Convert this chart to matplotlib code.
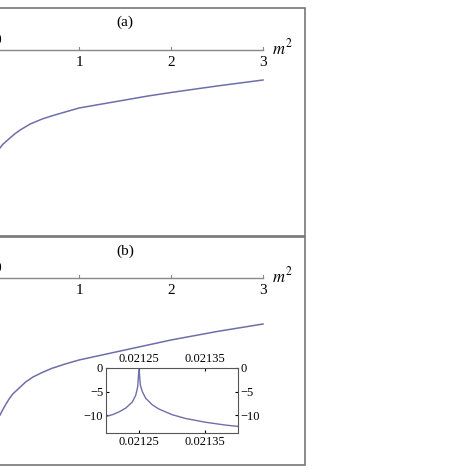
import matplotlib
matplotlib.use("Agg")
import matplotlib.pyplot as plt
import numpy as np
from matplotlib.patches import Rectangle

plt.rcParams['font.family'] = ['Liberation Serif', 'DejaVu Serif']
plt.rcParams['mathtext.fontset'] = 'stix'
W = 474.0
line_c = '#6e6eaa'

# panel (a) curve
a_m2 = [0.141, 0.17, 0.2, 0.25, 0.3, 0.36, 0.47, 0.6, 0.7, 0.85, 1.0, 1.25, 1.5, 1.75, 2.0, 2.5, 3.0]
a_val = [-9.8, -9.45, -9.2, -8.8, -8.4, -8.0, -7.4, -6.9, -6.6, -6.2, -5.8, -5.4, -5.0, -4.6, -4.25, -3.6, -3.0]
# panel (b) curve
b_m2 = [0.141, 0.17, 0.2, 0.24, 0.28, 0.35, 0.42, 0.5, 0.6, 0.7, 0.85, 1.0, 1.25, 1.5, 2.0, 2.5, 3.0]
b_val = [-13.7, -13.2, -12.7, -12.1, -11.6, -11.0, -10.4, -9.9, -9.45, -9.05, -8.6, -8.2, -7.7, -7.2, -6.2, -5.35, -4.6]
# inset
i_x = [0.02120, 0.02121, 0.02122, 0.02123, 0.02124, 0.021245, 0.021248, 0.02125, 0.021252, 0.021255,
       0.02126, 0.02127, 0.02128, 0.02130, 0.02132, 0.02135, 0.02138, 0.02140]
i_y = [-10.3, -9.9, -9.3, -8.5, -7.2, -5.8, -4.0, 0.0, -3.6, -5.0,
       -6.4, -7.8, -8.7, -9.9, -10.7, -11.5, -12.1, -12.4]
xticks = [1, 2, 3]
inset_ticks = [0.02125, 0.02135]
inset_yticks = [0, -5, -10]

fig = plt.figure(figsize=(4.74, 4.74), dpi=100)

def panel(top, bottom, axis_py, xs, ys, label):
    fig.patches.append(Rectangle((-0.01, 1 - bottom / W), (305 + 5) / W, (bottom - top) / W,
                                 transform=fig.transFigure, fill=False, ec='#777777', lw=1.2))
    ax = fig.add_axes([0, 1 - bottom / W, 305 / W, (bottom - top) / W])
    ax.set_xlim(13 / 92, 318 / 92)
    ax.set_ylim(-(bottom - axis_py) / 10, (axis_py - top) / 10)
    ax.axis('off')
    ax.plot([13 / 92, 3.0], [0, 0], color='#888888', lw=1)
    for t in xticks:
        ax.plot([t, t], [0, 0.3], color='#888888', lw=0.8)
        ax.text(t, -0.6, str(t), ha='center', va='top', fontsize=11)
    ax.text(3.1, 0.2, r'$m^2$', ha='left', va='center', fontsize=12)
    ax.text(13 / 92 - 0.07, 1.0, '0', ha='left', va='center', fontsize=11)
    ax.text(1.5, (axis_py - top) / 10 - 0.8, label, ha='center', va='top', fontsize=11)
    ax.plot(xs, ys, color=line_c, lw=1.1)
    return ax

panel(8, 236, 50, a_m2, a_val, '(a)')
panel(237, 465, 278, b_m2, b_val, '(b)')

ia = fig.add_axes([106 / W, 1 - 433 / W, 132 / W, 65 / W])
ia.plot(i_x, i_y, color=line_c, lw=1)
ia.set_xlim(0.02120, 0.02140)
ia.set_ylim(-13.8, 0)
ia.set_xticks(inset_ticks)
ia.set_xticklabels(['0.02125', '0.02135'])
ia.set_yticks(inset_yticks)
ia.set_yticklabels(['0', '\u22125', '\u221210'])
ia.tick_params(top=True, right=True, labeltop=True, labelright=True, labelsize=9,
               direction='in', length=2, pad=2)
for s in ia.spines.values():
    s.set_color('#555555')
    s.set_linewidth(0.8)

fig.savefig('out.png', dpi=100)
